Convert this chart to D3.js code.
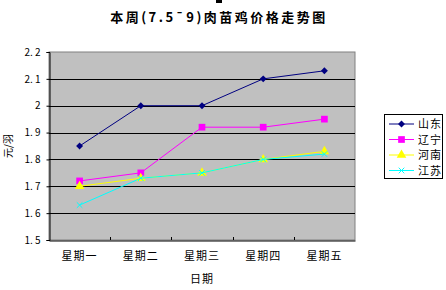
<!DOCTYPE html>
<html>
<head>
<meta charset="utf-8">
<script src="https://cdn.jsdelivr.net/npm/d3@7"></script>
<style>
  body { margin: 0; background: #fff; }
  text { font-family: "Noto Sans CJK SC", "DejaVu Sans", sans-serif; }
</style>
</head>
<body>
<div id="chart"></div>
<script>
// days of the week (x categories)
const days = ["星期一", "星期二", "星期三", "星期四", "星期五"];
const provinces = ["山东", "辽宁", "河南", "江苏"];
const shandong = [1.85, 2.0, 2.0, 2.1, 2.13];
const liaoning = [1.72, 1.75, 1.92, 1.92, 1.95];
const henan = [1.70, 1.73, 1.75, 1.80, 1.83];
const jiangsu = [1.63, 1.73, 1.75, 1.80, 1.82];
const yTicks = [1.5, 1.6, 1.7, 1.8, 1.9, 2.0, 2.1, 2.2];

const seriesList = [
  {name: provinces[0], values: shandong, color: "#000080", symbol: d3.symbolSquare, size: 24, rot: 45},
  {name: provinces[1], values: liaoning, color: "#FF00FF", symbol: d3.symbolSquare, size: 45, rot: 0},
  {name: provinces[2], values: henan, color: "#FFFF00", symbol: d3.symbolTriangle, size: 40, rot: 0},
  {name: provinces[3], values: jiangsu, color: "#00FFFF", symbol: d3.symbolX, size: 22, rot: 0}
];

const width = 446, height = 290;
const plot = {left: 49, top: 52, right: 355, bottom: 240};

const svg = d3.select("#chart").append("svg")
    .attr("width", width)
    .attr("height", height);

// little black mark at the top
svg.append("rect").attr("x", 216).attr("y", 0).attr("width", 6).attr("height", 3).attr("fill", "#000");

svg.append("text")
    .attr("x", 219).attr("y", 22)
    .attr("text-anchor", "middle")
    .attr("font-size", 13)
    .attr("font-weight", "bold")
    .attr("letter-spacing", 2.5)
    .text("本周(7.5¯9)肉苗鸡价格走势图");

let xScale = d3.scaleBand().domain(days).range([plot.left, plot.right]);
let yScale = d3.scaleLinear().domain([1.5, 2.2]).range([plot.bottom, plot.top]);

// plot background
svg.append("rect")
    .attr("x", plot.left).attr("y", plot.top)
    .attr("width", plot.right - plot.left).attr("height", plot.bottom - plot.top)
    .attr("fill", "#C0C0C0")
    .attr("stroke", "#808080");

// gridlines
svg.selectAll(".grid").data(yTicks.slice(1, -1)).enter().append("line")
    .attr("x1", plot.left).attr("x2", plot.right)
    .attr("y1", d => Math.round(yScale(d)) + 0.5).attr("y2", d => Math.round(yScale(d)) + 0.5)
    .attr("stroke", "#000");

// y axis
let yAxis = d3.axisLeft(yScale).tickValues(yTicks).tickSize(3).tickFormat(d => d === 2 ? "2" : d3.format(".1f")(d).replace(".", ". "));
let gy = svg.append("g").attr("transform", "translate(" + (plot.left + 0.5) + ",0)").call(yAxis);
gy.select(".domain").attr("stroke", "#000");
gy.selectAll("text").attr("font-size", 10).attr("font-family", "DejaVu Sans Mono, monospace").attr("x", -9);

// x axis
let xAxis = d3.axisBottom(xScale).tickSize(0).tickPadding(12);
let gx = svg.append("g").attr("transform", "translate(0," + (plot.bottom + 0.5) + ")").call(xAxis);
gx.select(".domain").attr("stroke", "#000");
gx.selectAll("text").attr("font-size", 11).attr("letter-spacing", 1);
// ticks at band boundaries, pointing into the plot
svg.selectAll(".xtick").data(days.slice(1)).enter().append("line")
    .attr("x1", d => Math.round(xScale(d)) + 0.5).attr("x2", d => Math.round(xScale(d)) + 0.5)
    .attr("y1", plot.bottom).attr("y2", plot.bottom - 3)
    .attr("stroke", "#000");

svg.append("text")
    .attr("x", (plot.left + plot.right) / 2).attr("y", 283)
    .attr("text-anchor", "middle")
    .attr("font-size", 11)
    .attr("letter-spacing", 1)
    .text("日期");

svg.append("text")
    .attr("transform", "translate(12," + 146 + ") rotate(-90)")
    .attr("text-anchor", "middle")
    .attr("font-size", 10)
    .text("元/羽");

let line = d3.line()
    .x((d, i) => xScale(days[i]) + xScale.bandwidth() / 2)
    .y(d => yScale(d));

seriesList.forEach(s => {
  svg.append("path")
      .attr("d", line(s.values))
      .attr("fill", "none")
      .attr("stroke", s.color)
      .attr("stroke-width", 1);
  svg.selectAll(null).data(s.values).enter().append("path")
      .attr("transform", (d, i) => "translate(" + (xScale(days[i]) + xScale.bandwidth() / 2) + "," + yScale(d) + ") rotate(" + s.rot + ")")
      .attr("d", d3.symbol().type(s.symbol).size(s.size))
      .attr("fill", s.color)
      .attr("stroke", s.symbol === d3.symbolX ? s.color : "none");
});

// legend
let legend = svg.append("g");
legend.append("rect")
    .attr("x", 384.5).attr("y", 114.5).attr("width", 58).attr("height", 64)
    .attr("fill", "#fff").attr("stroke", "#000");
seriesList.forEach((s, i) => {
  let y = 124 + i * 15.5;
  legend.append("line")
      .attr("x1", 389).attr("x2", 414).attr("y1", y).attr("y2", y)
      .attr("stroke", s.color);
  legend.append("path")
      .attr("transform", "translate(401.5," + y + ") rotate(" + s.rot + ")")
      .attr("d", d3.symbol().type(s.symbol).size(s.size))
      .attr("fill", s.color)
      .attr("stroke", s.symbol === d3.symbolX ? s.color : "none");
  legend.append("text")
      .attr("x", 418).attr("y", y + 4)
      .attr("font-size", 11)
      .attr("letter-spacing", 1)
      .text(s.name);
});
</script>
</body>
</html>
